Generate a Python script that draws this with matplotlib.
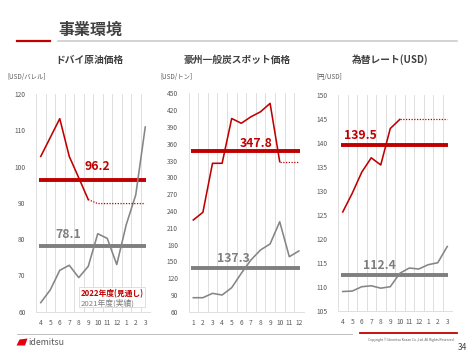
"""Business environment slide: Dubai crude, Australian coal, USD/JPY."""

import matplotlib
matplotlib.use("Agg")
import matplotlib.pyplot as plt
from matplotlib.patches import Rectangle, Polygon
from matplotlib.lines import Line2D

plt.rcParams['font.family'] = ['Noto Sans CJK JP', 'DejaVu Sans']

RED = '#c00000'
GRAY = '#7f7f7f'
LINE_GRAY = '#858585'
GRID = '#d9d9d9'
TEXT = '#595959'

W, H = 474, 355

# fiscal-year months (Apr..Mar) and calendar months
fy_months = ['4', '5', '6', '7', '8', '9', '10', '11', '12', '1', '2', '3']
cal_months = ['1', '2', '3', '4', '5', '6', '7', '8', '9', '10', '11', '12']

# Dubai crude [USD/bbl]
oil_2022 = [102.8, 108.0, 113.2, 102.8, 96.9, 90.9]
oil_2022_fcst = [90.9, 89.8, 89.8, 89.8, 89.8, 89.8, 89.8]
oil_2021 = [62.5, 66.0, 71.4, 72.8, 69.4, 72.5, 81.5, 80.2, 73.0, 84.0, 92.2, 110.9]
oil_avg_2022 = 96.2
oil_avg_2021 = 78.1

# Australian thermal coal spot [USD/t]
coal_2022 = [223.8, 237.5, 325.0, 325.0, 405.0, 396.5, 408.0, 417.0, 432.0, 328.0]
coal_2022_fcst = [328.0, 328.0, 328.0]
coal_2021 = [85.0, 85.0, 92.8, 89.8, 102.9, 128.6, 152.3, 170.2, 181.0, 220.7, 158.2, 168.4]
coal_avg_2022 = 347.8
coal_avg_2021 = 137.3

# USD/JPY [JPY/USD]
fx_2022 = [125.6, 129.5, 133.9, 136.9, 135.4, 143.0, 144.9]
fx_2022_fcst = [144.9, 144.9, 144.9, 144.9, 144.9, 144.9]
fx_2021 = [109.0, 109.1, 110.0, 110.2, 109.7, 110.0, 112.8, 113.9, 113.7, 114.6, 115.0, 118.4]
fx_avg_2022 = 139.5
fx_avg_2021 = 112.4


def px(x, y):
    """Pixel position (from top-left) to figure fraction."""
    return x / W, 1 - y / H


def make_axes(fig, left, right, top, bottom):
    l, b = px(left, bottom)
    r, t = px(right, top)
    return fig.add_axes([l, b, r - l, t - b])


def draw_panel(ax, labels, actual, plan, fcst, avg_plan, avg_act, yticks,
               plan_label_pos, act_label_pos):
    n = len(labels)
    x = list(range(n))
    ax.set_xlim(-0.5, n - 0.5)
    ax.set_ylim(yticks[0], yticks[-1])
    for g in range(n + 1):
        ax.axvline(g - 0.5, color=GRID, lw=0.6, zorder=0)

    ax.plot(x, actual, color=LINE_GRAY, lw=1.15, zorder=3)
    ax.plot(x[:len(plan)], plan, color=RED, lw=1.15, zorder=3)
    start = len(plan) - 1 if fcst[0] == plan[-1] else len(plan)
    fx = x[start:start + len(fcst)]
    ax.plot(fx, fcst, color=RED, lw=0.9, ls=(0, (1, 1.2)), zorder=3)

    ax.plot([-0.2, n - 0.88], [avg_plan, avg_plan], color=RED, lw=2.8,
            solid_capstyle='butt', zorder=2)
    ax.plot([-0.2, n - 0.88], [avg_act, avg_act], color=GRAY, lw=2.8,
            solid_capstyle='butt', zorder=2)
    ax.text(plan_label_pos[0], plan_label_pos[1], f'{avg_plan:.1f}', color=RED,
            fontsize=8.8, fontweight='bold', ha='center', va='center', zorder=4)
    ax.text(act_label_pos[0], act_label_pos[1], f'{avg_act:.1f}', color=GRAY,
            fontsize=8.8, fontweight='bold', ha='center', va='center', zorder=4)

    ax.set_xticks(x)
    ax.set_xticklabels(labels)
    ax.set_yticks(yticks)
    ax.tick_params(length=0, labelsize=4.8, colors=TEXT, pad=5)
    ax.tick_params(axis='y', pad=7.5)
    for side in ['top', 'left', 'right']:
        ax.spines[side].set_visible(False)
    ax.spines['bottom'].set_color(GRID)
    ax.spines['bottom'].set_linewidth(0.6)


fig = plt.figure(figsize=(W / 100, H / 100), dpi=100)

# header
fig.text(*px(58, 30), '事業環境', fontsize=11.5, fontweight='bold',
         color='#404040', va='center', ha='left')
fig.add_artist(Line2D([17 / W, 50 / W], [1 - 41 / H] * 2, color=RED, lw=1.6))
fig.add_artist(Line2D([58 / W, 457 / W], [1 - 41 / H] * 2, color='#c8c8c8', lw=1.1))

# panel titles and units
for cx, title in [(89, 'ドバイ原油価格'), (237, '豪州一般炭スポット価格'), (390, '為替レート(USD)')]:
    fig.text(*px(cx, 60), title, fontsize=7, fontweight='bold', color='#404040',
             ha='center', va='center')
for lx, unit in [(7, '[USD/バレル]'), (160, '[USD/トン]'), (316, '[円/USD]')]:
    fig.text(*px(lx, 77), unit, fontsize=4.6, color=TEXT, ha='left', va='center')

ax_oil = make_axes(fig, 36, 150, 94, 311.7)
draw_panel(ax_oil, fy_months, oil_2021, oil_2022, oil_2022_fcst,
           oil_avg_2022, oil_avg_2021, list(range(60, 121, 10)),
           (6.0, 100.0), (2.85, 81.3))

ax_coal = make_axes(fig, 188.5, 303.7, 93.3, 311.7)
draw_panel(ax_coal, cal_months, coal_2021, coal_2022, coal_2022_fcst,
           coal_avg_2022, coal_avg_2021, list(range(60, 451, 30)),
           (6.6, 360.0), (4.2, 155.4))

ax_fx = make_axes(fig, 338, 452, 95, 310.7)
draw_panel(ax_fx, fy_months, fx_2021, fx_2022, fx_2022_fcst,
           fx_avg_2022, fx_avg_2021, list(range(105, 151, 5)),
           (1.83, 141.5), (3.9, 114.5))

# legend box inside the oil panel
l, b = px(78.5, 307.3)
r, t = px(145, 286.7)
fig.add_artist(Rectangle((l, b), r - l, t - b, transform=fig.transFigure,
                         facecolor='white', edgecolor=GRID, lw=0.6, zorder=5))
fig.text(*px(81, 294), '2022年度(見通し)', fontsize=5.6, fontweight='bold',
         color=RED, ha='left', va='center', zorder=6)
fig.text(*px(81, 303), '2021年度(実績)', fontsize=5.6, color=GRAY,
         ha='left', va='center', zorder=6)

# footer
fig.add_artist(Line2D([17 / W, 352 / W], [1 - 334 / H] * 2, color='#bfbfbf', lw=0.7))
fig.add_artist(Line2D([360 / W, 457 / W], [1 - 333.3 / H] * 2, color=RED, lw=1.3))
logo = [px(16.5, 345.5), px(19.5, 339.5), px(27.5, 338.5), px(25, 345.5)]
fig.add_artist(Polygon(logo, closed=True, transform=fig.transFigure,
                       facecolor='#e60012', edgecolor='none'))
fig.text(*px(28.5, 342.5), 'idemitsu', fontsize=6.3, color=TEXT,
         ha='left', va='center')
fig.text(*px(455, 340), 'Copyright © Idemitsu Kosan Co.,Ltd. All Rights Reserved.',
         fontsize=2.4, color=TEXT, ha='right', va='center')
fig.text(*px(463, 347.5), '34', fontsize=6, color='#404040', ha='center', va='center')

fig.savefig('out.png', dpi=100)
